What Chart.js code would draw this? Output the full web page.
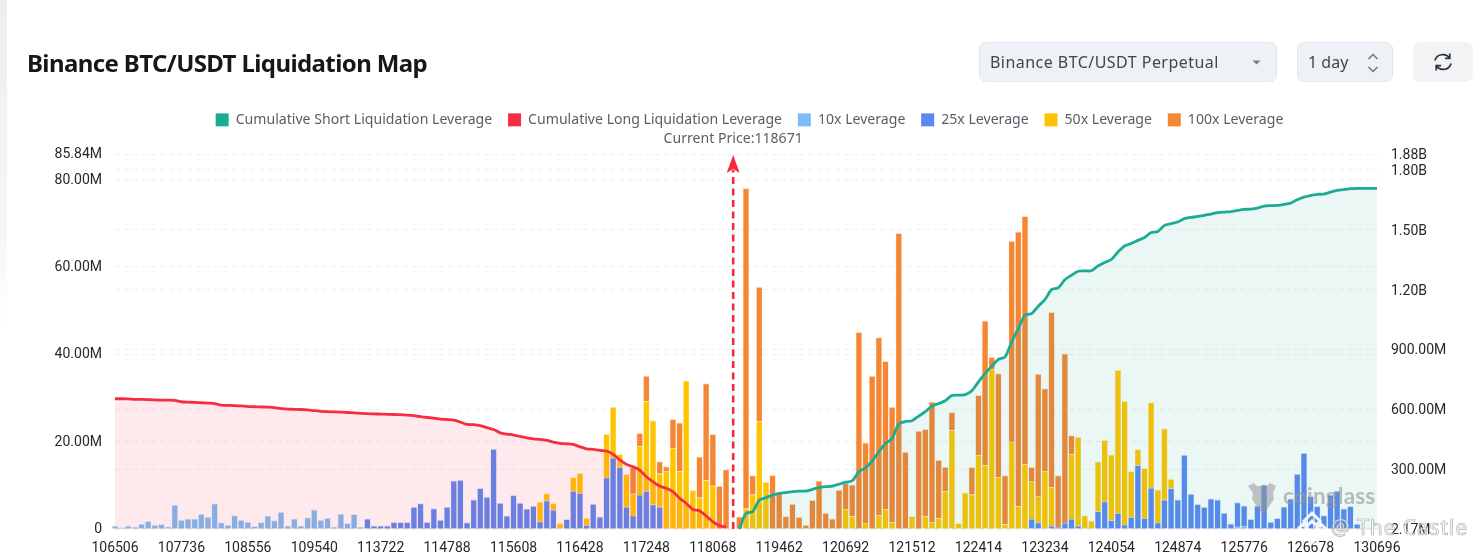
<!DOCTYPE html>
<html><head><meta charset="utf-8">
<script src="https://cdn.jsdelivr.net/npm/chart.js@4/dist/chart.umd.min.js"></script>
<style>
html,body{margin:0;padding:0;width:1479px;height:554px;overflow:hidden;background:#fff;font-family:"Noto Sans",sans-serif}
#strip{position:absolute;left:0;top:0;width:7px;height:330px;background:linear-gradient(#eeeeee,#f6f6f6 70%,#fff)}
#card{position:absolute;left:7px;top:0;width:20px;height:20px;background:#fff;border-top-left-radius:9px}
#wrap{position:absolute;left:0;top:0;width:1479px;height:554px}
h1{position:absolute;left:27px;top:46px;margin:0;font:700 24px/34px "Noto Sans",sans-serif;letter-spacing:-.6px;color:#14171c;white-space:nowrap}
.ctl{position:absolute;top:42px;height:38px;background:#eef1f5;border:1px solid #dfe7ef;border-radius:7px;font:16px/38px "Noto Sans",sans-serif;color:#3f4650;box-sizing:content-box}
.ctl span{position:absolute;left:10px;white-space:nowrap}
#wm1{position:absolute;left:1283px;top:481px;font:700 22.5px/30px "Lato",sans-serif;color:rgba(150,150,150,.62);letter-spacing:.2px}
#wm2{position:absolute;left:1331px;top:510px;font:21px/34px "Noto Sans",sans-serif;letter-spacing:.9px;color:rgba(255,255,255,.72);-webkit-text-stroke:.7px rgba(150,150,150,.75);white-space:nowrap}
svg.ov{position:absolute}
</style></head><body>
<div id="strip"></div><div id="card"></div>
<div id="wrap"><canvas id="c" width="1479" height="554"></canvas></div>
<h1>Binance BTC/USDT Liquidation Map</h1>
<div class="ctl" style="left:979px;width:296px"><span style="letter-spacing:.46px">Binance BTC/USDT Perpetual</span>
<svg class="ov" style="left:271px;top:16px" width="12" height="8"><path d="M1.5 1.5h8l-4 4z" fill="#767d86"/></svg></div>
<div class="ctl" style="left:1297px;width:94px"><span>1 day</span>
<svg class="ov" style="left:68px;top:9px" width="14" height="22" fill="none" stroke="#6e757e" stroke-width="1.4"><path d="M2.5 7 7 2.5 11.5 7M2.5 15l4.5 4.5 4.5-4.5"/></svg></div>
<div class="ctl" style="left:1413px;width:58px;background:#f1f3f5;border-color:#f1f3f5">
<svg class="ov" style="left:18px;top:8px" width="22" height="22" fill="none" stroke="#2c3238" stroke-width="1.7"><path d="M3 9.5a8 7.5 0 0 1 14.5-2.5M19 12.5a8 7.5 0 0 1-14.5 2.5M17.8 2.5V7.4H13M4.2 19.5v-4.9H9"/></svg></div>
<svg class="ov" style="left:1245px;top:480px" width="34" height="36"><path d="M3 6l6-3 3 3h10l3-3 6 3-3 7 1 6-6 9-5 6-5-6-6-9 1-6z" fill="rgba(150,150,150,.55)"/></svg>
<div id="wm1">coinglass</div>
<svg class="ov" style="left:1293px;top:508px" width="38" height="38" fill="none" stroke="rgba(255,255,255,.9)" stroke-width="3"><path d="M19 5l8 8-4 4-4-4-4 4-4-4zM6 20l4-4 4 4-4 4zM24 20l4-4 4 4-4 4zM19 35l-8-8 4-4 4 4 4-4 4 4z"/></svg>
<div id="wm2">@ The Castle</div>
<script>
const tickLabels = ["106506","107736","108556","109540","113722","114788","115608","116428","117248","118068","119462","120692","121512","122414","123234","124054","124874","125776","126678","130696"];
const leftTicks = [0,20,40,60,80,85.84];
const leftTickLabels = ["0","20.00M","40.00M","60.00M","80.00M","85.84M"];
const rightTicks = [0.00217,0.3,0.6,0.9,1.2,1.5,1.8,1.88];
const rightTickLabels = ["2.17M","300.00M","600.00M","900.00M","1.20B","1.50B","1.80B","1.88B"];
const currentPrice = "118671";
const currentPriceIndex = 93.07;

// Leverage values, millions USD, one per price bucket
const lev10 = [
.7,.25,.7,.45,1.15,1.75,.9,1.05,.5,5.5,
2.05,2.3,2.3,3.4,2.75,5.8,1.45,.9,3.1,2.05,
1.6,.6,1.5,3.0,1.9,3.9,.7,2.3,.7,2.6,
4.4,2.05,2.5,.45,3.4,1.3,3.35,.45,0,0,
0,0,0,0,0,0,0,0,0,0, 0,0,0,0,0,0,0,0,0,0,
0,0,0,0,0,0,0,0,0,0, 0,0,0,0,0,0,0,0,0,0,
0,0,0,0,0,0,0,0,0,0, 0,0,0,0,0,0,0,0,0,0,
0,0,0,0,0,0,0,0,0,0, 0,0,0,0,0,0,0,0,0,0,
0,0,0,0,0,0,0,0,0,0, 0,0,0,0,0,0,0,0,0,0,
0,0,0,0,0,0,0,0,0,0, 0,0,0,0,0,0,0,0,0,0,
0,0,0,0,0,0,0,0,.15,.5,
.7];
const lev25 = [
0,0,0,0,0,0,0,0,0,0, 0,0,0,0,0,0,0,0,0,0, 0,0,0,0,0,0,0,0,0,0,
0,0,0,0,0,0,0,0,2.3,.75,
.7,.7,1.5,1.5,1.5,5.0,5.8,1.5,4.65,2.05,
5.0,11.0,11.2,1.45,6.7,9.3,7.3,18.3,5.95,3.0,
7.7,5.95,4.6,5.25,1.7,6.5,4.4,0,2.2,8.7,
8.25,.9,5.7,2.8,11.75,16.3,14.1,5.1,3.05,7.8,
8.7,5.6,5.1,0,0,0,0,0,0,0,
0,0,0,0,0,0,0,0,0,0, 0,0,0,0,0,0,0,0,0,0, 0,0,0,0,0,0,0,0,0,0, 0,0,0,0,0,0,0,0,0,0,
0,0,0,0,0,0,0,0,2.3,1.45,
0,.7,.4,1.4,2.3,.75,0,0,4.05,6.25,
2,3.65,1,2.75,14.6,2.5,9.45,1.45,6.7,9.3,
6.65,16.9,8,5.65,5,6.9,6.65,3.65,1.05,5.55,
4.6,2.2,5.3,10.1,1.6,2.45,5.1,6.9,12.6,17.4,
7.5,5.2,3.05,7.8,8.7,4.6,5.2,1.15,0,0,
0];
const lev50 = [
0,0,0,0,0,0,0,0,0,0, 0,0,0,0,0,0,0,0,0,0, 0,0,0,0,0,0,0,0,0,0,
0,0,0,0,0,0,0,0,0,0, 0,0,0,0,0,0,0,0,0,0, 0,0,0,0,0,0,0,0,0,0,
0,0,0,0,4.5,1.6,1.5,1.3,0,3.1,
4.5,1.6,0,0,10,11.6,3.0,7.4,5.0,11.2,
20.6,19.2,7.6,13.3,18.5,13.2,33.9,8.85,7.2,11.2,
9.9,0,0,0,0,4.7,7.9,24.7,10.75,0,
0,0,0,0,0,0,0,0,0,0,
4.6,2.9,0,1.4,0,3.2,4.6,1.6,0,0,
2.9,0,2.9,1.5,2.5,8.7,22.6,1.3,8.3,7.9,
16.9,14.65,36.6,11.9,1.15,20,5.2,14.8,8.6,6,
13.3,8.9,0,0,14.8,20.3,3.05,1.85,11.4,14.1,
15,32.7,28.2,10.45,3.65,11.4,19.5,7.5,16.3,2.1,
0,0,0,0,0,0,0,0,0,0, 0,0,0,0,0,0,0,0,0,0, 0,0,0,0,0,0,0,0,0,0,
0];
const lev100 = [
0,0,0,0,0,0,0,0,0,0, 0,0,0,0,0,0,0,0,0,0, 0,0,0,0,0,0,0,0,0,0,
0,0,0,0,0,0,0,0,0,0, 0,0,0,0,0,0,0,0,0,0, 0,0,0,0,0,0,0,0,0,0,
0,0,0,0,0,0,0,0,0,0,
0,0,0,0,0,0,0,0,6.1,2.9,
5.7,0,2.75,1.0,6.6,11.1,0,0,9.3,22.1,
11.75,9.85,13.6,0,2.8,73.3,4.35,30.7,0,12.3,
8.2,2.9,5.7,2.75,.9,6.55,11,3.65,2.3,8.9,
5.85,7.2,45,18.3,35,40.6,33.8,26.3,67.7,17.6,
0,22.4,19.9,27.6,13.3,5.5,4.1,0,0,6.2,
13.7,33,2.7,23.65,11.1,45.9,62.8,56.8,3.3,28,
18.85,40,11.8,38.7,4.3,0,0,0,0,0,
0,0,0,0,0,0,0,0,0,0, 0,0,0,0,0,0,0,0,0,0, 0,0,0,0,0,0,0,0,0,0, 0,0,0,0,0,0,0,0,0,0,
0];
// Cumulative lines, billions USD
const cumLong = [
.653,.653,.652,.650,.650,.649,.647,.646,.646,.645,
.638,.636,.635,.633,.631,.629,.621,.620,.619,.617,
.614,.613,.612,.611,.609,.604,.601,.600,.599,.597,
.593,.590,.588,.587,.586,.584,.582,.580,.578,.577,
.576,.575,.574,.573,.571,.568,.563,.559,.556,.551,
.549,.546,.536,.524,.523,.518,.508,.499,.482,.476,
.471,.464,.457,.452,.449,.444,.436,.429,.427,.424,
.412,.402,.399,.394,.391,.374,.346,.324,.312,.295,
.262,.237,.215,.204,.187,.154,.129,.098,.092,.065,
.037,.017,.010];
const cumShort = [
0,.078,.087,.145,.157,.170,
.179,.182,.187,.190,.190,.199,.209,.212,.215,.225,
.235,.242,.287,.307,.341,.387,.429,.454,.526,.539,
.543,.566,.588,.616,.629,.643,.669,.671,.674,.693,
.738,.780,.816,.850,.863,.938,1.005,1.072,1.080,1.117,
1.150,1.200,1.209,1.250,1.272,1.292,1.294,1.295,1.319,1.336,
1.351,1.389,1.419,1.431,1.447,1.461,1.486,1.492,1.522,1.531,
1.539,1.556,1.562,1.567,1.572,1.579,1.586,1.589,1.591,1.597,
1.602,1.604,1.609,1.619,1.621,1.622,1.627,1.634,1.651,1.664,
1.672,1.678,1.679,1.689,1.698,1.701,1.706,1.708,1.708,1.708,1.708];

const categories = lev25.map((_,i)=> i%10===0 ? tickLabels[i/10] : String(i));
const pad = (arr,n,front)=> front ? Array(n).fill(null).concat(arr) : arr.concat(Array(n).fill(null));
const nz = a => a.map(v => v===0 ? null : v);
const FONT = '"Noto Sans",sans-serif';
const AXIS = 'Roboto,sans-serif';

const bar = (label,data,color,edge)=>({type:'bar',label,data:nz(data),yAxisID:'y',stack:'s',order:2,
  backgroundColor:color,borderColor:edge,borderWidth:{top:1,left:.6,right:.6,bottom:0},borderSkipped:false,
  barThickness:5.7,clip:false,legendColor:color});
const line = (label,data,color,fillc)=>({type:'line',label,data,yAxisID:'y1',order:1,borderColor:color,backgroundColor:fillc,
  borderWidth:2.8,pointRadius:0,tension:.3,fill:'origin',legendColor:color});

const setup = {id:'setup',afterInit(c){const f=c.legend.fit;c.legend.fit=function(){f.call(this);this.height=57;};},
  beforeDraw(c){for(const [id,dy] of [['y',.5],['y1',1.5]]){c.scales[id].getLabelItems().forEach(it=>{it.textOffset+=dy;});}}};
const marker = {id:'marker',afterDatasetsDraw(c){
  const x=c.scales.x.getPixelForValue(currentPriceIndex),b=c.chartArea.bottom,t=c.chartArea.top,g=c.ctx;
  g.save();g.strokeStyle='#f5283c';g.lineWidth=2.6;g.setLineDash([7,4.5]);
  g.beginPath();g.moveTo(x,b);g.lineTo(x,t+16);g.stroke();g.setLineDash([]);
  g.fillStyle='#f5283c';g.beginPath();g.moveTo(x,t+1);g.lineTo(x+6.5,t+19);g.lineTo(x,t+15);g.lineTo(x-6.5,t+19);g.closePath();g.fill();
  g.fillStyle='#595e66';g.font='14.1px '+FONT;g.textAlign='center';g.textBaseline='middle';
  g.fillText('Current Price:'+currentPrice,x,139);g.restore();
}};

new Chart(document.getElementById('c'),{
  data:{labels:categories,datasets:[
    line('Cumulative Short Liquidation Leverage',pad(cumShort,94,true),'#1cab94','rgba(28,171,148,.09)'),
    line('Cumulative Long Liquidation Leverage',pad(cumLong,98,false),'#f62d40','rgba(246,45,64,.1)'),
    bar('10x Leverage',lev10,'#7cbcf4','rgba(124,188,244,.25)'),
    bar('25x Leverage',lev25,'#5b88f2','rgba(91,136,242,.25)'),
    bar('50x Leverage',lev50,'#ffc400','rgba(255,196,0,.25)'),
    bar('100x Leverage',lev100,'#f58634','rgba(245,134,52,.25)')
  ]},
  plugins:[setup,marker],
  options:{responsive:false,animation:false,devicePixelRatio:1,
    layout:{padding:{top:97,left:20,right:0,bottom:0}},
    plugins:{tooltip:{enabled:false},
      legend:{position:'top',align:'center',labels:{boxWidth:13,boxHeight:13,padding:15.8,color:'#595e66',font:{family:FONT,size:14.1},
        generateLabels(c){return c.data.datasets.map((d,i)=>({text:d.label,fillStyle:d.legendColor,strokeStyle:d.legendColor,lineWidth:0,datasetIndex:i,fontColor:'#595e66'}));}}}},
    scales:{
      x:{type:'category',stacked:true,offset:false,border:{display:false},grid:{display:false},
        afterFit(s){s.height=25;},
        ticks:{autoSkip:false,maxRotation:0,minRotation:0,padding:3,color:'#24272c',font:{family:AXIS,size:14},
          callback(v,i){return i%10===0?tickLabels[i/10]:'';}}},
      y:{position:'left',stacked:true,min:0,max:85.84,border:{display:false,dash:[5,4]},
        grid:{color:'#efefef',lineWidth:1,drawTicks:false},
        afterFit(s){s.width=95;},
        afterBuildTicks(s){s.ticks=leftTicks.map(v=>({value:v}));},
        ticks:{padding:13,color:'#24272c',font:{family:AXIS,size:14},autoSkip:false,
          callback(v){return leftTickLabels[leftTicks.indexOf(v)];}}},
      y1:{position:'right',min:0,max:1.88,border:{display:false,dash:[5,4]},
        grid:{color:'#efefef',lineWidth:1,drawTicks:false},
        afterFit(s){s.width=102;},
        afterBuildTicks(s){s.ticks=rightTicks.map(v=>({value:v}));},
        ticks:{padding:14,color:'#24272c',font:{family:AXIS,size:14},autoSkip:false,
          callback(v){return rightTickLabels[rightTicks.indexOf(v)];}}}
    }
  }
});
</script></body></html>
